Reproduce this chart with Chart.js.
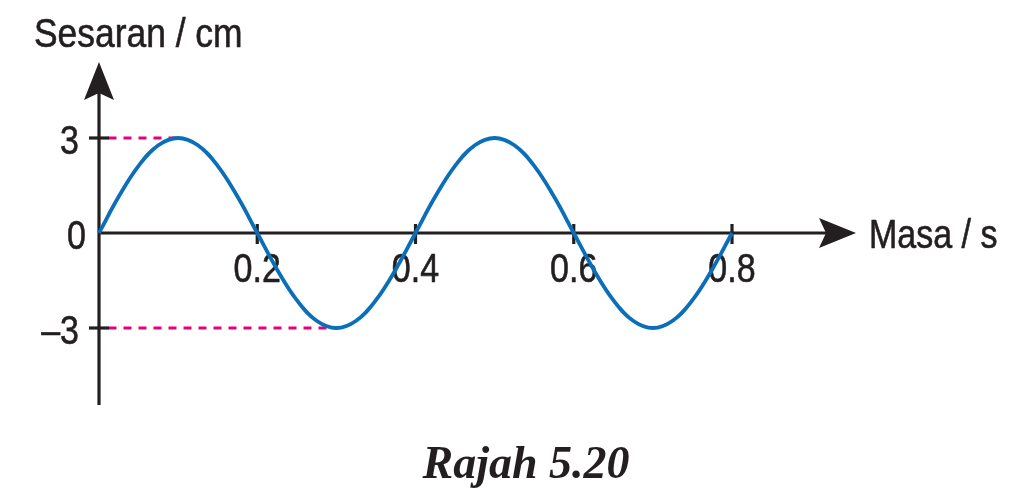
<!DOCTYPE html>
<html>
<head>
<meta charset="utf-8">
<script src="https://cdn.jsdelivr.net/npm/chart.js@4"></script>
<style>
  html, body { margin: 0; padding: 0; background: #fff; }
  #wrap { width: 1024px; height: 501px; position: relative; }
</style>
</head>
<body>
<div id="wrap"><canvas id="c" width="1024" height="501"></canvas></div>
<script>
// time (s) and displacement (cm)
const masa = [0, 0.025, 0.05, 0.075, 0.1, 0.125, 0.15, 0.175, 0.2,
  0.225, 0.25, 0.275, 0.3, 0.325, 0.35, 0.375, 0.4,
  0.425, 0.45, 0.475, 0.5, 0.525, 0.55, 0.575, 0.6,
  0.625, 0.65, 0.675, 0.7, 0.725, 0.75, 0.775, 0.8];
const sesaran = [0, 1.15, 2.12, 2.77, 3, 2.77, 2.12, 1.15, 0,
  -1.15, -2.12, -2.77, -3, -2.77, -2.12, -1.15, 0,
  1.15, 2.12, 2.77, 3, 2.77, 2.12, 1.15, 0,
  -1.15, -2.12, -2.77, -3, -2.77, -2.12, -1.15, 0];
const xTicks = [0.2, 0.4, 0.6, 0.8];
const xTickLabels = ["0.2", "0.4", "0.6", "0.8"];
const yTicks = [3, 0, -3];
const yTickLabels = ["3", "0", "\u20133"];
// dashed guides: [from x, to x, level]
const guides = [[0.012, 0.1, 3], [0.012, 0.3, -3]];

const ink = "#231f20";
const blue = "#0a6fb8";
const pink = "#e6007e";

function condensedText(ctx, txt, x, y, align, size, sx) {
  sx = sx || 0.85;
  ctx.save();
  ctx.font = size + "px 'Liberation Sans', Arial, sans-serif";
  const w = ctx.measureText(txt).width * sx;
  let left = x;
  if (align === "center") left = x - w / 2;
  if (align === "right") left = x - w;
  ctx.translate(left, y);
  ctx.scale(sx, 1);
  ctx.textAlign = "left";
  ctx.textBaseline = "alphabetic";
  ctx.fillStyle = ink;
  ctx.strokeStyle = ink;
  ctx.lineWidth = 0.6;
  ctx.fillText(txt, 0, 0);
  ctx.strokeText(txt, 0, 0);
  ctx.restore();
}

const axesPlugin = {
  id: "axesPlugin",
  beforeDatasetsDraw(chart) {
    const ctx = chart.ctx;
    const xs = chart.scales.x, ys = chart.scales.y;
    const x0 = xs.getPixelForValue(0), y0 = ys.getPixelForValue(0);

    // dashed guide lines
    ctx.save();
    ctx.strokeStyle = pink;
    ctx.lineWidth = 3;
    ctx.setLineDash([8, 7]);
    guides.forEach(g => {
      const yy = ys.getPixelForValue(g[2]);
      ctx.beginPath();
      ctx.moveTo(xs.getPixelForValue(g[0]), yy);
      ctx.lineTo(xs.getPixelForValue(g[1]), yy);
      ctx.stroke();
    });
    ctx.restore();

    ctx.save();
    ctx.strokeStyle = ink;
    ctx.fillStyle = ink;
    ctx.lineWidth = 3.2;
    // y axis
    ctx.beginPath();
    ctx.moveTo(x0, 405);
    ctx.lineTo(x0, 90);
    ctx.stroke();
    ctx.beginPath();
    ctx.moveTo(x0, 62);
    ctx.lineTo(x0 + 15, 100);
    ctx.lineTo(x0, 93);
    ctx.lineTo(x0 - 15, 100);
    ctx.closePath();
    ctx.fill();
    // x axis
    ctx.beginPath();
    ctx.moveTo(x0, y0);
    ctx.lineTo(830, y0);
    ctx.stroke();
    ctx.beginPath();
    ctx.moveTo(856, y0);
    ctx.lineTo(819, y0 - 15);
    ctx.lineTo(826, y0);
    ctx.lineTo(819, y0 + 15);
    ctx.closePath();
    ctx.fill();
    // x ticks
    xTicks.forEach((v, i) => {
      const px = xs.getPixelForValue(v);
      ctx.beginPath();
      ctx.moveTo(px, y0 - 9);
      ctx.lineTo(px, y0 + 11);
      ctx.stroke();
      condensedText(ctx, xTickLabels[i], px, 282, "center", 40);
    });
    // y ticks
    yTicks.forEach((v, i) => {
      const py = ys.getPixelForValue(v);
      if (v !== 0) {
        ctx.beginPath();
        ctx.moveTo(x0 - 10, py);
        ctx.lineTo(x0 + 10, py);
        ctx.stroke();
        condensedText(ctx, yTickLabels[i], 79, py + 16, "right", 40);
      } else {
        condensedText(ctx, yTickLabels[i], 86, py + 16, "right", 40);
      }
    });
    ctx.restore();

    condensedText(ctx, "Sesaran / cm", 34, 47, "left", 40, 0.885);
    condensedText(ctx, "Masa / s", 869, 248, "left", 40);

    ctx.save();
    ctx.font = "italic bold 46px 'Liberation Serif', 'Times New Roman', serif";
    ctx.fillStyle = ink;
    ctx.textAlign = "center";
    ctx.textBaseline = "alphabetic";
    ctx.fillText("Rajah 5.20", 526, 478);
    ctx.restore();
  }
};

new Chart(document.getElementById("c"), {
  type: "line",
  data: {
    datasets: [{
      data: masa.map((t, i) => ({ x: t, y: sesaran[i] })),
      borderColor: blue,
      borderWidth: 3.8,
      pointRadius: 0,
      tension: 0.4,
      fill: false,
      clip: false
    }]
  },
  options: {
    responsive: false,
    animation: false,
    events: [],
    layout: { padding: { left: 99, right: 292, top: 138, bottom: 173 } },
    plugins: { legend: { display: false }, tooltip: { enabled: false } },
    scales: {
      x: { type: "linear", min: 0, max: 0.8, display: false },
      y: { type: "linear", min: -3, max: 3, display: false }
    }
  },
  plugins: [axesPlugin]
});
</script>
</body>
</html>
